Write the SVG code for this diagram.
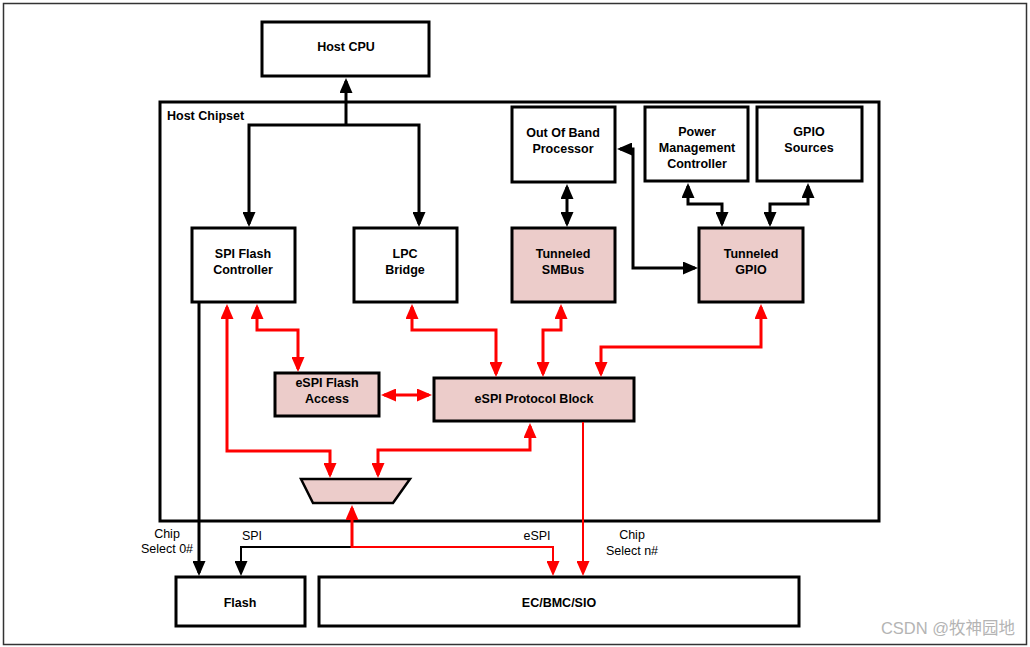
<svg xmlns="http://www.w3.org/2000/svg" width="1030" height="647" viewBox="0 0 1030 647">
<style>
.box{fill:#fff;stroke:#000;stroke-width:3}
.pink{fill:#ecccca;stroke:#000;stroke-width:3}
.t{font-family:"Liberation Sans",Arial,sans-serif;font-size:12.5px;font-weight:bold;fill:#000;text-anchor:middle}
.lbl{font-family:"Liberation Sans",Arial,sans-serif;font-size:12.5px;fill:#000;text-anchor:middle}
.bk{fill:none;stroke:#000;stroke-width:3}
.rd{fill:none;stroke:#f00;stroke-width:3}
.bk2{fill:none;stroke:#000;stroke-width:2}
.rd2{fill:none;stroke:#f00;stroke-width:2}
</style>
<defs>
<marker id="ab" markerUnits="userSpaceOnUse" markerWidth="15" markerHeight="13" refX="12" refY="6.5" orient="auto-start-reverse" viewBox="0 0 15 13"><path d="M0,0 L15,6.5 L0,13 z" fill="#000"/></marker>
<marker id="ar" markerUnits="userSpaceOnUse" markerWidth="15" markerHeight="13" refX="12" refY="6.5" orient="auto-start-reverse" viewBox="0 0 15 13"><path d="M0,0 L15,6.5 L0,13 z" fill="#f00"/></marker>
</defs>
<rect x="0" y="0" width="1030" height="647" fill="#fff"/>
<rect x="3.5" y="3.5" width="1023" height="641" fill="none" stroke="#333" stroke-width="1.5"/>

<g id="host-chipset">
<rect x="160" y="102" width="719" height="419" fill="none" stroke="#000" stroke-width="3"/>
<text x="167" y="120" class="t" style="text-anchor:start">Host Chipset</text>
</g>

<g id="host-cpu"><rect x="262" y="22" width="167" height="54" class="box"/><text x="346" y="51" class="t">Host CPU</text></g>
<g id="spi-flash-controller"><rect x="192" y="228" width="103" height="74" class="box"/><text x="243" y="258" class="t">SPI Flash</text><text x="243" y="274" class="t">Controller</text></g>
<g id="lpc-bridge"><rect x="354" y="228" width="103" height="74" class="box"/><text x="405" y="258" class="t">LPC</text><text x="405" y="274" class="t">Bridge</text></g>
<g id="oob-processor"><rect x="512" y="107" width="103" height="75" class="box"/><text x="563" y="137" class="t">Out Of Band</text><text x="563" y="153" class="t">Processor</text></g>
<g id="pmc"><rect x="645" y="107" width="103" height="74" class="box"/><text x="697" y="136" class="t">Power</text><text x="697" y="152" class="t">Management</text><text x="697" y="168" class="t">Controller</text></g>
<g id="gpio-sources"><rect x="757" y="107" width="105" height="74" class="box"/><text x="809" y="136" class="t">GPIO</text><text x="809" y="152" class="t">Sources</text></g>
<g id="tunneled-smbus"><rect x="512" y="228" width="103" height="74" class="pink"/><text x="563" y="258" class="t">Tunneled</text><text x="563" y="274" class="t">SMBus</text></g>
<g id="tunneled-gpio"><rect x="699" y="228" width="104" height="74" class="pink"/><text x="751" y="258" class="t">Tunneled</text><text x="751" y="274" class="t">GPIO</text></g>
<g id="espi-flash-access"><rect x="275" y="373" width="104" height="43" class="pink"/><text x="327" y="387" class="t">eSPI Flash</text><text x="327" y="403" class="t">Access</text></g>
<g id="espi-protocol-block"><rect x="434" y="378" width="200" height="43" class="pink"/><text x="534" y="403" class="t">eSPI Protocol Block</text></g>
<g id="mux"><polygon points="301,479 410,479 393,503 313,503" fill="#ecccca" stroke="#000" stroke-width="2.5"/></g>
<g id="flash"><rect x="176" y="577" width="129" height="49" class="box"/><text x="240" y="607" class="t">Flash</text></g>
<g id="ec-bmc-sio"><rect x="319" y="577" width="480" height="49" class="box"/><text x="559" y="607" class="t">EC/BMC/SIO</text></g>

<g id="connectors">
<path class="bk" d="M346,125 V81" marker-end="url(#ab)"/>
<path class="bk" d="M249,224 V125 H419 V224" marker-end="url(#ab)" marker-start="url(#ab)"/>
<path class="bk" d="M567,187 V224" marker-end="url(#ab)" marker-start="url(#ab)"/>
<path class="bk" d="M620,149 H633 V268 H695" marker-end="url(#ab)" marker-start="url(#ab)"/>
<path class="bk" d="M688,186 V204 H722 V224" marker-end="url(#ab)" marker-start="url(#ab)"/>
<path class="bk" d="M808,186 V204 H770 V224" marker-end="url(#ab)" marker-start="url(#ab)"/>
<path class="bk" d="M199,303 V573" marker-end="url(#ab)"/>
<path class="bk2" d="M352,547 H241 V573" marker-end="url(#ab)"/>

<path class="rd" d="M227,307 V451 H330 V475" marker-end="url(#ar)" marker-start="url(#ar)"/>
<path class="rd" d="M257,307 V330 H298 V369" marker-end="url(#ar)" marker-start="url(#ar)"/>
<path class="rd" d="M384,395 H429" marker-end="url(#ar)" marker-start="url(#ar)"/>
<path class="rd" d="M412,307 V330 H496 V374" marker-end="url(#ar)" marker-start="url(#ar)"/>
<path class="rd" d="M561,307 V330 H543 V374" marker-end="url(#ar)" marker-start="url(#ar)"/>
<path class="rd" d="M761,307 V347 H601 V374" marker-end="url(#ar)" marker-start="url(#ar)"/>
<path class="rd" d="M530,426 V450 H378 V475" marker-end="url(#ar)" marker-start="url(#ar)"/>
<path class="rd2" d="M583,422 V573" marker-end="url(#ar)"/>
<path class="rd" d="M352,548 V508" marker-end="url(#ar)"/>
<path class="rd2" d="M352,547 H553 V573" marker-end="url(#ar)"/>

<text x="167" y="538" class="lbl">Chip</text>
<text x="167" y="553" class="lbl">Select 0#</text>
<text x="252" y="540" class="lbl">SPI</text>
<text x="537" y="540" class="lbl">eSPI</text>
<text x="632" y="539" class="lbl">Chip</text>
<text x="632" y="555" class="lbl">Select n#</text>
</g>

<text x="1015" y="634" style="font-family:'Liberation Sans','Noto Sans CJK SC',sans-serif;font-size:16.5px;fill:#b4b4b4;text-anchor:end">CSDN @牧神园地</text>
</svg>
